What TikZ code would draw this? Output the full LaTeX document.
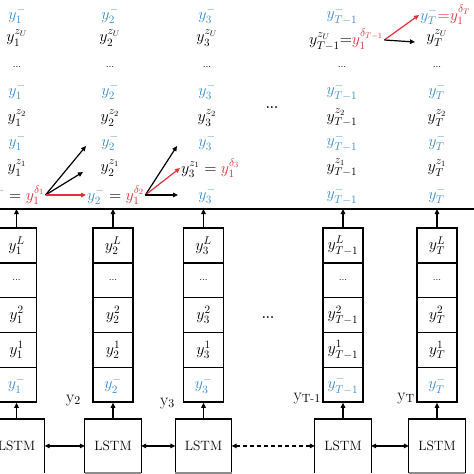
\RequirePackage{fix-cm}
\documentclass[tikz,border=0pt]{standalone}
\usepackage{amsmath}
\usetikzlibrary{arrows.meta}
\definecolor{yblue}{HTML}{3E8EC9}
\definecolor{yred}{HTML}{E2303A}
\newcommand{\yB}[1]{\textcolor{yblue}{#1}}
\newcommand{\yR}[1]{\textcolor{yred}{#1}}
\begin{document}
\begin{tikzpicture}[x=1pt,y=-1pt,
  lab/.style={inner sep=1pt, font=\fontsize{16}{18}\selectfont},
  ybl/.style={text=yblue},
  cell/.style={draw, line width=1.3pt, minimum width=40pt, minimum height=34.8pt, inner sep=0pt, font=\fontsize{16}{18}\selectfont},
  lstm/.style={minimum width=56pt, minimum height=53.5pt, anchor=north, inner sep=0pt, font=\fontsize{13.5}{15}\selectfont},
  box/.style={line width=1.3pt},
  arr/.style={-{Triangle[length=5pt,width=4.5pt]}, line width=1.2pt},
  darr/.style={{Triangle[length=5pt,width=4.5pt]}-{Triangle[length=5pt,width=4.5pt]}, line width=1.2pt},
  ylab/.style={inner sep=0pt, font=\fontsize{17}{19}\selectfont},
  bigdots/.style={inner sep=0pt, font=\fontsize{13}{15}\selectfont\bfseries},
  smalldots/.style={font=\fontsize{10}{12}\selectfont}
]
\useasboundingbox (0,0) rectangle (474,474);

% separator
\coordinate (sepL) at (0,209);
\coordinate (sepR) at (474,209);
\draw[line width=1.6pt] (sepL) -- (sepR);

% stacks and LSTM cells
\foreach \n/\x/\s in {1/16.5/1,2/113/2,3/203.5/3,4/343/{T-1},5/437/T}{
  \node[cell] (c\n L) at (\x,245.5) {$y_{\s}^{L}$};
  \node[cell, smalldots] (c\n d) at (\x,280.3) {...};
  \node[cell] (c\n b) at (\x,315.1) {$y_{\s}^{2}$};
  \node[cell] (c\n a) at (\x,349.9) {$y_{\s}^{1}$};
  \node[cell] (c\n m) at (\x,384.7) {$\yB{y_{\s}^{-}}$};
  \node[lstm] (l\n) at (\x,419) {LSTM};
  \draw[box] (l\n.south west) |- (l\n.north east) -- (l\n.south east);
  \draw[arr] (l\n) -- (c\n m);
  \draw[arr] (c\n L.north) -- (c\n L.north |- sepL);
}
\foreach \n in {2,3,5}{
  \draw[line width=1.5pt, black!45] (l\n.south west) -- (l\n.south east);
}

% LSTM connections
\draw[darr] (l1) -- (l2);
\draw[darr] (l2) -- (l3);
\draw[darr, dash pattern=on 4pt off 3pt] (l3) -- (l4);
\draw[darr] (l4) -- (l5);

% output labels
\node[ylab, anchor=east] (Y2) at (81,400) {$\mathrm{y}_{2}$};
\node[ylab, anchor=east] (Y3) at (175,403) {$\mathrm{y}_{3}$};
\node[ylab, anchor=east] (YT1) at (321,398) {$\mathrm{y}_{\mathrm{T}\text{-}1}$};
\node[ylab, anchor=east] (YT) at (415,398) {$\mathrm{y}_{\mathrm{T}}$};

% middle dots
\node[bigdots] (md) at (268,318) {...};
\node[bigdots] (td) at (272,108) {...};

% top grid: regular entries
\foreach \n/\x/\s in {1/17/1,2/110/2,3/207/3,4/342/{T-1},5/437/T}{
  \node[lab, smalldots] (r3c\n) at (\x,67) {...};
  \node[lab,ybl] (r4c\n) at (\x,91) {$y_{\s}^{-}$};
  \node[lab] (r5c\n) at (\x,118) {$y_{\s}^{z_2}$};
  \node[lab,ybl] (r6c\n) at (\x,142) {$y_{\s}^{-}$};
}
\foreach \n/\x/\s in {1/17/1,2/110/2,3/207/3,4/342/{T-1}}{
  \node[lab,ybl] (r1c\n) at (\x,15) {$y_{\s}^{-}$};
}
\foreach \n/\x/\s in {1/17/1,2/110/2,3/207/3,5/437/T}{
  \node[lab] (r2c\n) at (\x,38) {$y_{\s}^{z_U}$};
}
\foreach \n/\x/\s in {1/17/1,2/110/2,4/342/{T-1},5/437/T}{
  \node[lab] (r7c\n) at (\x,168) {$y_{\s}^{z_1}$};
}
\foreach \n/\x/\s in {3/207/3,4/342/{T-1},5/437/T}{
  \node[lab,ybl] (r8c\n) at (\x,195) {$y_{\s}^{-}$};
}

% composite entries
\node[lab, anchor=east] (q1) at (45.5,195) {$\yB{y_1^{-}} = \yR{y_1^{\delta_1}}$};
\node[lab, anchor=west] (q2) at (86,195) {$\yB{y_2^{-}} = \yR{y_1^{\delta_2}}$};
\node[lab, anchor=west] (q3) at (180,168) {$y_3^{z_1} = \yR{y_1^{\delta_3}}$};
\node[lab, anchor=west] (qT1) at (308,40) {$y_{T-1}^{z_U}{=}\yR{y_1^{\delta_{T-1}}}$};
\node[lab, anchor=west] (qT) at (419,15) {$\yB{y_T^{-}}\yR{{=}y_1^{\delta_T}}$};

% arrow free ends
\coordinate (e1) at (86,146);
\coordinate (e2) at (83,172);
\coordinate (e3) at (177,146);
\coordinate (e4) at (178,195);
\coordinate (e5) at (415,42);

\draw[arr] (q1.east) -- (e1);
\draw[arr] (q1.east) -- (e2);
\draw[arr, yred] (q1.east) -- (q2.west);
\draw[arr] (q2.east) -- (e3);
\draw[arr, yred] (q2.east) -- (q3.west);
\draw[arr] (q2.east) -- (e4);
\draw[arr, yred] (qT1.east) -- (qT.west);
\draw[arr] (qT1.east) -- (e5);
\end{tikzpicture}
\end{document}
